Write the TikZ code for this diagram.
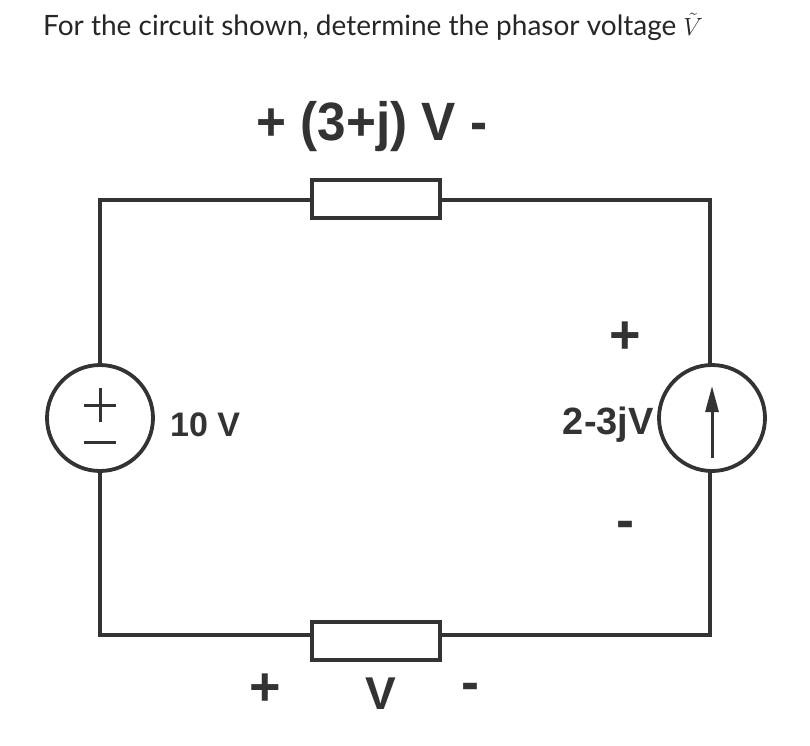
\documentclass[tikz,border=0pt]{standalone}
\usepackage{fontspec}
\setmainfont{Lato}
\newfontfamily\arialb{Liberation Sans}
\usetikzlibrary{arrows.meta}
\definecolor{wire}{HTML}{333333}
\tikzset{x=1pt,y=-1pt,
 w/.style={draw=wire,line width=3.8pt},
 res/.style={w,fill=white,minimum width=128pt,minimum height=38pt,inner sep=0pt},
 src/.style={w,fill=white,circle,minimum size=106pt,inner sep=0pt},
 lab/.style={text=wire,font=\arialb\bfseries\fontsize{54}{58}\selectfont,inner sep=0pt},
 labs/.style={text=wire,font=\arialb\bfseries\fontsize{34}{38}\selectfont,inner sep=0pt}}
\begin{document}
\begin{tikzpicture}
\useasboundingbox (0,0) rectangle (810,745);
\node[anchor=west,inner sep=0pt,text=black!85,font=\fontsize{28}{32}\selectfont] (title) at (43,27) {For the circuit shown, determine the phasor voltage $\tilde{V}$};
\coordinate (tl) at (100,200); \coordinate (tr) at (710,200);
\coordinate (bl) at (100,635); \coordinate (br) at (710,635);
\draw[w] (bl) -- (tl) -- (tr) -- (br) -- cycle;
\node[res] (r1) at (376,199) {};
\node[res] (r2) at (376,641) {};
\node[src] (s1) at (100,418) {};
\node[src] (s2) at (712,418) {};
\draw[wire,line width=3pt] (84,405) -- (116,405) (100,388) -- (100,422) (84,442) -- (116,442);
\draw[wire,line width=3pt,-{Triangle[length=26pt,width=13pt]}] (712,458) -- (712,386);
\node[lab,xscale=0.95] (l1) at (372,127) {+ (3+j) V -};
\node[labs,anchor=west] (l2) at (170,425) {10 V};
\node[labs,anchor=east,font=\arialb\bfseries\fontsize{38}{42}\selectfont] (l3) at (654,425) {2-3jV};
\node[lab] (l4) at (625,338) {+};
\node[lab] (l5) at (625,530) {-};
\node[lab] (l6) at (265,690) {+};
\node[lab,font=\arialb\bfseries\fontsize{46}{50}\selectfont] (l7) at (381,694) {V};
\node[lab] (l8) at (470,692) {-};
\end{tikzpicture}
\end{document}
